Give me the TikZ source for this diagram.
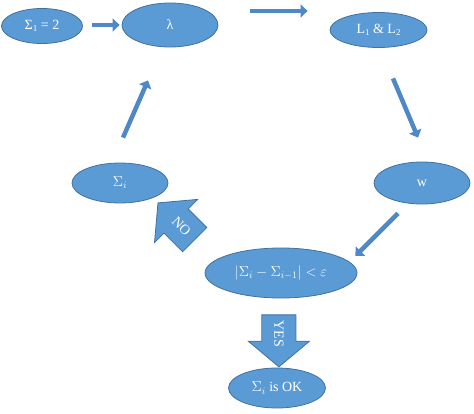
\documentclass[tikz,border=0pt]{standalone}
\usepackage{fontspec}
\setmainfont{Liberation Serif}
\usetikzlibrary{shapes.geometric,shapes.arrows,arrows.meta}
\definecolor{boxblue}{HTML}{5B9BD5}
\definecolor{lineblue}{HTML}{41719C}
\definecolor{arrblue}{HTML}{4F88C6}
\newcommand{\lowidx}[1]{\raisebox{-1.5pt}{\small #1}}

\begin{document}
\begin{tikzpicture}[x=1pt,y=-1pt,font=\fontsize{14}{16}\selectfont,
bubble/.style n args={2}{ellipse,fill=boxblue,draw=lineblue,line width=0.8pt,text=white,inner sep=0pt,minimum width=#1pt,minimum height=#2pt},
thinarr/.style={draw=arrblue,line width=4.5pt,-{Triangle[length=7pt,width=13pt]}},
bigarr/.style={single arrow,fill=boxblue,draw=lineblue,line width=0.8pt,text=white,inner xsep=2pt,inner ysep=12pt,minimum height=52pt,single arrow head extend=13.5pt,single arrow tip angle=100}]
\useasboundingbox (0,0) rectangle (474,414);
\node[bubble={81}{35}] (s1) at (42,26) {Σ\lowidx{1} = 2};
\node[bubble={96}{44}] (lam) at (170,25) {λ};
\node[bubble={97}{35}] (L) at (378.5,30) {L\lowidx{1} \& L\lowidx{2}};
\node[bubble={96}{40}] (si) at (120,183) {$\Sigma_i$};
\node[bubble={96}{42}] (w) at (422,183) {w};
\node[bubble={152}{50}] (cond) at (281,273) {$|\Sigma_i-\Sigma_{i-1}|<\varepsilon$};
\node[bubble={97}{40}] (ok) at (277,388) {$\Sigma_i$ is OK};
\foreach \a/\sa/\b/\sb in %
{s1.east/{9.5,-1}/lam.west/{-2,0}, lam.east/{32,-14}/L.west/{-22,-19},
 L.south/{14.5,30.5}/w.north/{-4,-24}, w.south/{-24,9}/cond.east/{-2,-17},
 si.north/{3,-25}/lam.south/{-22,33}} {
   \draw[thinarr] ([shift={(\sa)}]\a) -- ([shift={(\sb)}]\b);
}
\path (cond) -- node[bigarr,pos=0.51,rotate=-90] (yes) {YES} (ok);
\path (cond) -- node[bigarr,pos=0.652,yshift=-9pt,rotate=-45,shape border rotate=180] (no) {NO} (si);
\end{tikzpicture}
\end{document}
